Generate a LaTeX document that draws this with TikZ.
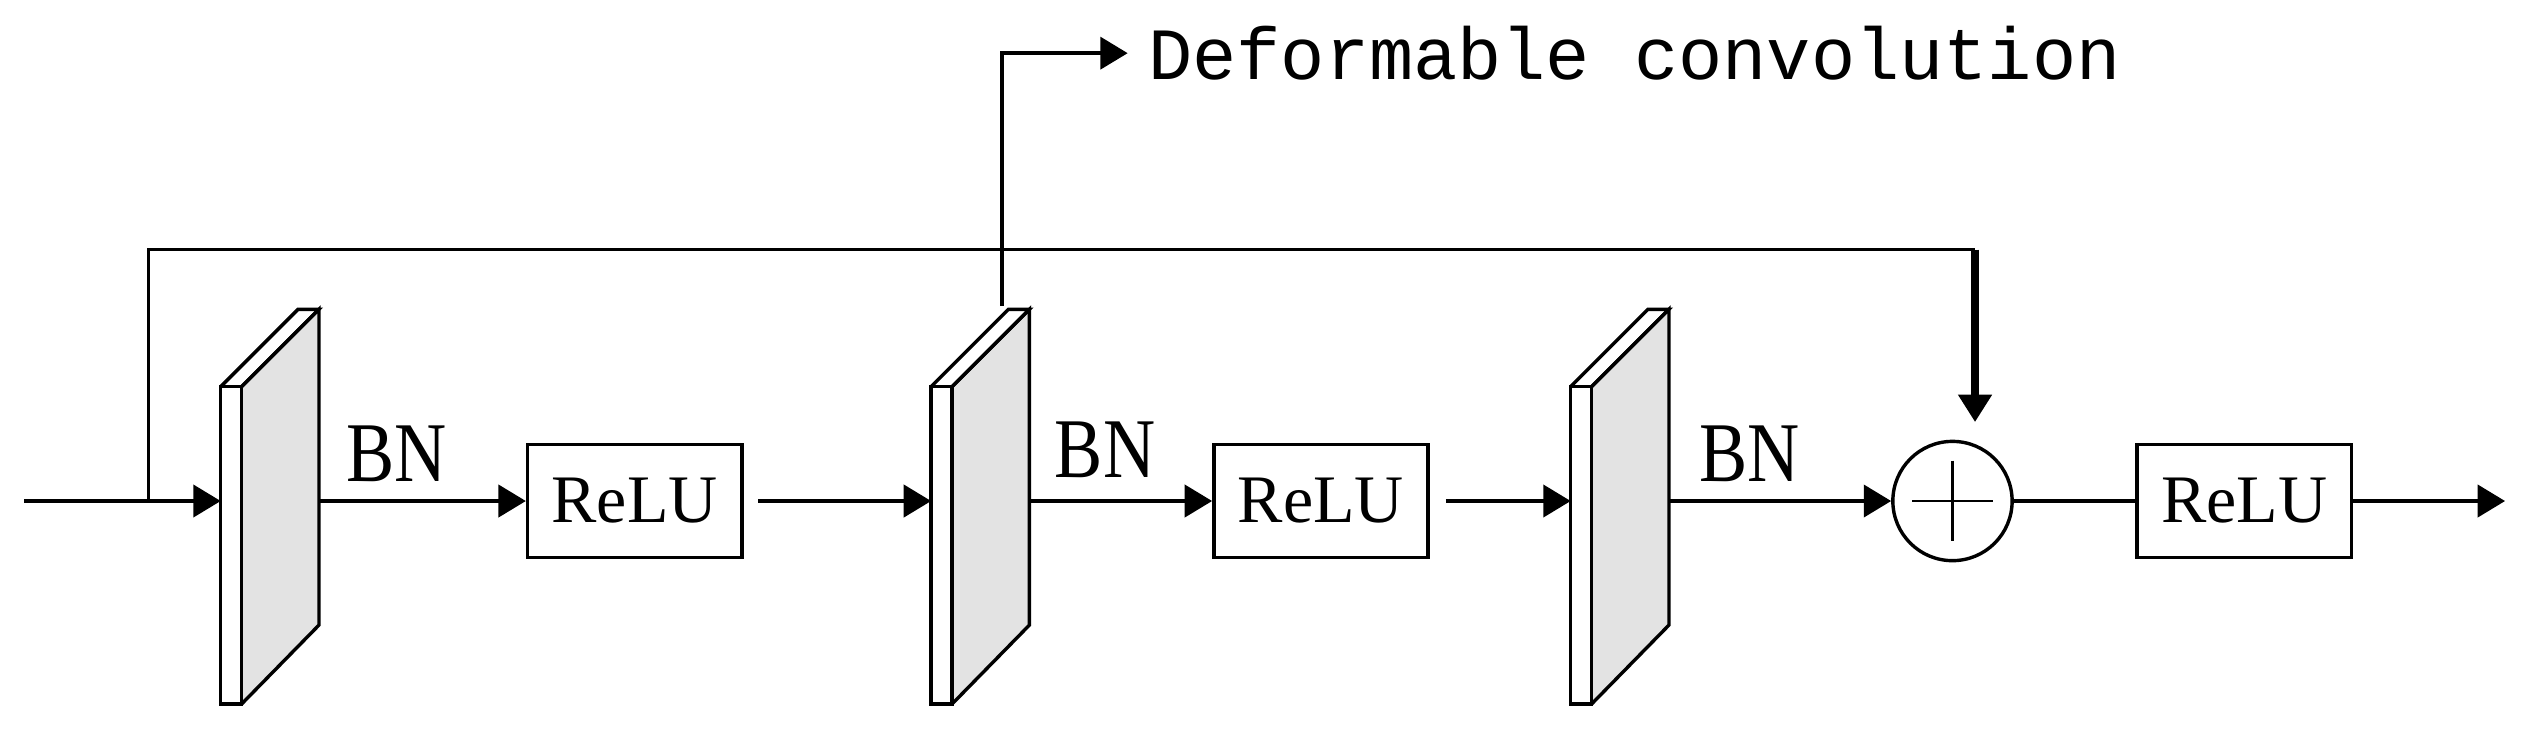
\documentclass[tikz,border=0pt]{standalone}
\usepackage{fontspec}
\setmainfont{Liberation Serif}
\newfontfamily\monofont{Liberation Mono}
\usetikzlibrary{arrows.meta}
\begin{document}
\begin{tikzpicture}[x=0.01cm,y=-0.01cm,line width=0.6pt,
  arr/.style={-{Triangle[length=0.17cm,width=0.2cm]}},
  box/.style={draw,minimum width=1.33cm,minimum height=0.7cm,inner sep=0pt,font=\fontsize{12}{12}\selectfont},
  lbl/.style={font=\fontsize{15}{15}\selectfont,xscale=0.85},
  plate/.pic={
    \fill[gray!22] (13,240) -- (61,192) -- (61,388) -- (13,437) -- cycle;
    \draw (0,240) -- (13,240) -- (13,437) -- (0,437) -- cycle;
    \draw (0,240) -- (48,192) -- (61,192) -- (13,240);
    \draw (13,240) -- (61,192) -- (61,388) -- (13,437);
    \coordinate (-in) at (0,311);
    \coordinate (-out) at (61,311);
  }]
\useasboundingbox (0,0) rectangle (1568,466);
\pic (p1) at (137,0) {plate};
\pic (p2) at (578,0) {plate};
\pic (p3) at (975,0) {plate};
\node[box] (r1) at (394,311) {ReLU};
\node[box] (r2) at (820,311) {ReLU};
\node[box] (r3) at (1393,311) {ReLU};
\node[draw,circle,minimum size=0.74cm,inner sep=0pt] (add) at (1212,311) {};
\draw[line width=0.4pt] (1212,286) -- (1212,336) (1187,311) -- (1237,311);
\node[lbl] (bn1) at (246,282) {BN};
\node[lbl] (bn2) at (686,279) {BN};
\node[lbl] (bn3) at (1086,282) {BN};
\node[anchor=west,font=\monofont\fontsize{13}{13}\selectfont] (dc) at (700,33) {Deformable convolution};
\coordinate (in) at (15,311);
\coordinate (out) at (1555,311);
\coordinate (skip) at (92,311);
\coordinate (sk) at (1226,155);
\coordinate (skend) at (1226,262);
\draw[arr] (in) -- (p1-in);
\draw[arr] (p1-out) -- (r1.west);
\draw[arr] (r1.east) ++(9,0) -- (p2-in);
\draw[arr] (p2-out) -- (r2.west);
\draw[arr] (r2.east) ++(10,0) -- (p3-in);
\draw[arr] (p3-out) -- (add.west);
\draw (add.east) -- (r3.west);
\draw[arr] (r3.east) -- (out);
\draw (skip) -- (92,155) -- (sk);
\draw[arr,line width=1.4pt] (sk) -- (skend);
\draw[arr] (622,190) -- (622,33) -- (dc.west);
\end{tikzpicture}
\end{document}
